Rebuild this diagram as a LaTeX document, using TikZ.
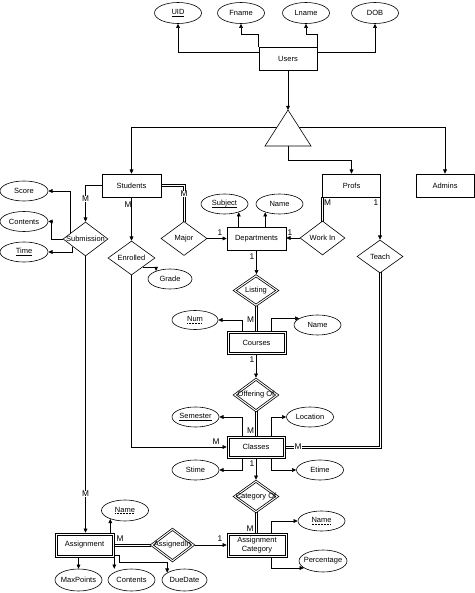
\documentclass[tikz,border=0pt]{standalone}
\usepackage{fontspec}
\setmainfont{Liberation Sans}
\usetikzlibrary{shapes.geometric,arrows.meta}
\newcommand\ndfont{\fontsize{7.5}{8.8}\selectfont}
\newcommand\cdfont{\fontsize{8.3}{9}\selectfont}
\newcommand\zb[1]{\makebox[0pt]{#1}}
\newcommand\ulx[1]{\setbox0\hbox{#1}\rlap{\raisebox{-1.6pt}{\rule{\wd0}{0.4pt}}}\box0}
\newcommand\dul[1]{\setbox0\hbox{#1}\rlap{\raisebox{-1.6pt}{\hbox to\wd0{\leaders\hbox to 1.5pt{\hss\vrule width 0.9pt height 0.4pt\hss}\hfill}}}\box0}
\newcommand\innerbox[1]{\draw ([shift={(2.4pt,2.4pt)}]#1.south west) rectangle ([shift={(-2.4pt,-2.4pt)}]#1.north east);}
\newcommand\innerdia[1]{\draw ([yshift=-2.8pt]#1.north) -- ([xshift=-3.7pt]#1.east) -- ([yshift=2.8pt]#1.south) -- ([xshift=3.7pt]#1.west) -- cycle;}
\tikzset{
  ent/.style={draw, rectangle, minimum width=59pt, minimum height=23pt, inner sep=0pt, align=center},
  attr/.style={draw, ellipse, minimum width=47pt, minimum height=20pt, inner sep=0pt},
  rel/.style={draw, diamond, minimum width=46pt, minimum height=34pt, inner sep=0pt},
  arr/.style={-{Triangle[length=4.2pt,width=3.8pt]}},
  card/.style={font=\cdfont, inner sep=0.6pt},
  cardw/.style={card, fill=white}
}
\begin{document}
\begin{tikzpicture}[x=1pt,y=-1pt,font=\ndfont,line width=0.6pt]
\useasboundingbox (0,0) rectangle (474,593);
% top
\node[attr, minimum height=21pt] (uid) at (178,13) {\zb{\ulx{UID}}};
\node[attr, minimum height=21pt] (fname) at (241,13) {\zb{Fname}};
\node[attr, minimum height=21pt] (lname) at (306,13) {\zb{Lname}};
\node[attr, minimum height=21pt] (dob) at (375,13) {\zb{DOB}};
\node[ent, minimum width=58pt] (users) at (288,58.5) {Users};
\coordinate (tA) at (288,110);
\coordinate (tL) at (265,146);
\coordinate (tR) at (311,146);
\coordinate (tB) at (288,146);
\coordinate (tl) at (277,127);
\coordinate (tr) at (299,127);
\node[ent] (stu) at (131.5,185.5) {Students};
\node[ent, minimum width=58pt] (prf) at (351.5,185.5) {Profs};
\node[ent, minimum width=58pt] (adm) at (445,185.5) {Admins};
% students side
\node[rel, minimum width=45pt] (sub) at (85.5,239) {\zb{Submission}};
\node[attr, minimum width=48pt] (score) at (24,191) {\zb{Score}};
\node[attr, minimum width=48pt] (cont) at (24,221.5) {\zb{Contents}};
\node[attr, minimum width=48pt] (time) at (24,252) {\zb{\ulx{Time}}};
\node[rel, minimum width=47pt] (enr) at (131.5,258) {\zb{Enrolled}};
\node[attr, minimum width=44pt] (grade) at (170,279) {\zb{Grade}};
\node[rel] (maj) at (184,238.5) {\zb{Major}};
\node[ent] (dep) at (256.5,238.5) {Departments};
\node[attr] (subj) at (224.5,204) {\zb{\ulx{Subject}}};
\node[attr] (dname) at (279.5,204) {\zb{Name}};
\node[rel, minimum width=45pt] (wrk) at (322.5,238) {\zb{Work In}};
\node[rel, minimum height=33pt] (tch) at (380,256.5) {\zb{Teach}};
% middle column
\node[rel, minimum height=32pt] (lst) at (256,290.5) {\zb{Listing}};
\node[ent] (crs) at (256.5,342.5) {Courses};
\node[attr, minimum width=46pt, minimum height=19pt] (num) at (195,320) {\zb{\dul{Num}}};
\node[attr] (cname) at (317.5,325) {\zb{Name}};
\node[rel] (off) at (256,395) {\zb{Offering Of}};
\node[ent, minimum width=58pt, minimum height=22pt] (cls) at (256,447) {Classes};
\node[attr] (sem) at (195.5,417) {\zb{\ulx{Semester}}};
\node[attr] (loc) at (310,417) {\zb{Location}};
\node[attr] (stime) at (195.5,470) {\zb{Stime}};
\node[attr] (etime) at (320,470) {\zb{Etime}};
\node[rel, minimum height=33pt] (cat) at (256,496.5) {\zb{Category Of}};
\node[ent, minimum width=60pt, minimum height=24pt] (ac) at (257,545) {Assignment\\Category};
\node[attr] (acname) at (321.5,521) {\zb{\dul{Name}}};
\node[attr, minimum width=48pt, minimum height=22pt] (pct) at (323,561) {\zb{Percentage}};
\node[rel, minimum width=45pt] (asg) at (172.5,545) {\zb{AssignedIn}};
\node[ent, minimum height=24pt] (ass) at (84.5,545) {Assignment};
\node[attr, minimum height=21pt] (aname) at (125,510.5) {\zb{\dul{Name}}};
\node[attr, minimum height=22pt] (mp) at (78.5,580) {\zb{MaxPoints}};
\node[attr, minimum height=22pt] (acont) at (131.5,580) {\zb{Contents}};
\node[attr, minimum width=45pt, minimum height=22pt] (due) at (184.5,580) {\zb{DueDate}};
% inner borders of weak entities and identifying relationships
\innerbox{crs}
\innerbox{cls}
\innerbox{ac}
\innerbox{ass}
\innerdia{lst}
\innerdia{off}
\innerdia{cat}
\innerdia{asg}
% connectors: users
\draw[arr] ([yshift=6.5pt]users.west) -| (uid.south);
\draw[arr] (users.north west) -- ++(0,-12) -| (fname.south);
\draw[arr] (users.north east) -- ++(0,-12) -| (lname.south);
\draw[arr] ([yshift=6.5pt]users.east) -| (dob.south);
\draw[arr] (users.south) -- (tA);
\draw[arr] (tl) -| (stu.north);
\draw[arr] (tr) -| (adm.north);
\draw[fill=white] (tA) -- (tL) -- (tR) -- cycle;
\draw[arr] (tB) -- ++(0,14) -| (prf.north);
% students
\draw[arr] (stu.west) -| (sub.north);
\draw[arr] (sub.161) |- (score.east);
\draw[arr] (sub.west) -- ++(-11,0) |- (cont.east);
\draw[arr] (sub.211) |- (time.east);
\draw[arr] (sub.south) -- (sub.south |- ass.north);
\draw[arr] (stu.south) -- (enr.north);
\draw[arr] (enr.-39) -| (grade.150);
\draw[arr] (enr.south) |- (cls.west);
% double: students - major
\draw ([yshift=1.2pt]stu.east) -| ([xshift=1.2pt,yshift=-0.9pt]maj.north);
\draw ([yshift=-1.2pt]stu.east) -| ([xshift=-1.2pt,yshift=-0.9pt]maj.north);
\draw[arr] (maj.east) -- (dep.west);
\draw[arr] (wrk.west) -- (wrk.west -| dep.east);
\draw[arr] (dep.north -| subj.330) -- (subj.330);
\draw[arr] (dep.north -| dname.210) -- (dname.210);
% double: profs - work in
\coordinate (pw) at (prf.south -| wrk.north);
\draw ([xshift=-1.2pt]pw) -- ([xshift=-1.2pt,yshift=-0.9pt]wrk.north);
\draw ([xshift=1.2pt]pw) -- ([xshift=1.2pt,yshift=-0.9pt]wrk.north);
\draw[arr] (prf.south -| tch.north) -- (tch.north);
% double: teach - classes
\draw ([xshift=1.2pt,yshift=0.9pt]tch.south) |- ([yshift=-1.2pt]cls.east);
\draw ([xshift=-1.2pt,yshift=0.9pt]tch.south) |- ([yshift=1.2pt]cls.east);
% middle
\draw[arr] (dep.south) -- (dep.south |- lst.north);
\coordinate (lc) at (lst.south |- crs.north);
\draw ([xshift=-1.2pt,yshift=0.9pt]lst.south) -- ([xshift=-1.2pt]lc);
\draw ([xshift=1.2pt,yshift=0.9pt]lst.south) -- ([xshift=1.2pt]lc);
\draw[arr] ([xshift=-14pt]crs.north) |- (num.east);
\draw[arr] ([xshift=15pt]crs.north) |- (cname.160);
\draw[arr] (off.north |- crs.south) -- (off.north);
\coordinate (oc) at (off.south |- cls.north);
\draw ([xshift=-1.2pt,yshift=0.9pt]off.south) -- ([xshift=-1.2pt]oc);
\draw ([xshift=1.2pt,yshift=0.9pt]off.south) -- ([xshift=1.2pt]oc);
\draw[arr] ([xshift=-14pt]cls.north) |- (sem.east);
\draw[arr] ([xshift=15pt]cls.north) |- (loc.west);
\draw[arr] ([xshift=-14pt]cls.south) |- (stime.east);
\draw[arr] ([xshift=15pt]cls.south) |- (etime.west);
\draw[arr] (cls.south) -- (cat.north);
\coordinate (ca) at (cat.south |- ac.north);
\draw ([xshift=-1.2pt,yshift=0.9pt]cat.south) -- ([xshift=-1.2pt]ca);
\draw ([xshift=1.2pt,yshift=0.9pt]cat.south) -- ([xshift=1.2pt]ca);
\draw[arr] ([xshift=14pt]ac.north) |- (acname.west);
\draw[arr] ([xshift=14pt]ac.south) |- (pct.200);
% assignment
\draw ([yshift=1.2pt]ass.east) -- ([xshift=1.6pt,yshift=1.2pt]asg.west);
\draw ([yshift=-1.2pt]ass.east) -- ([xshift=1.6pt,yshift=-1.2pt]asg.west);
\draw[arr] (asg.east) -- (ac.west);
\draw[arr] (ass.north -| aname.210) -- (aname.210);
\draw[arr] (ass.south -| mp.north) -- (mp.north);
\draw[arr] (ass.south east) -- (ass.south east |- acont.north);
\draw[arr] ([yshift=2pt]ass.south east) -| ([xshift=5pt,yshift=-5pt]ass.south east) -| (due.157);
% cardinalities
\node[cardw] (m1) at (85.5,199) {M};
\node[card] (m2) at (128,205) {M};
\node[cardw] (m3) at (184,194) {M};
\node[card] (c1) at (220,233) {1};
\node[card] (c2) at (290,233) {1};
\node[card] (m4) at (327.5,203) {M};
\node[card] (c3) at (376,203) {1};
\node[card] (c4) at (252,257) {1};
\node[card] (m5) at (250.5,320) {M};
\node[card] (c5) at (252,360) {1};
\node[card] (m6) at (250.5,431) {M};
\node[card] (m7) at (216,442) {M};
\node[cardw] (m8) at (298,446.5) {M};
\node[card] (c6) at (252,464) {1};
\node[card] (m9) at (250,529) {M};
\node[cardw] (m10) at (85.5,494) {M};
\node[card] (m11) at (120,539) {M};
\node[card] (c7) at (220,539) {1};
\end{tikzpicture}
\end{document}
